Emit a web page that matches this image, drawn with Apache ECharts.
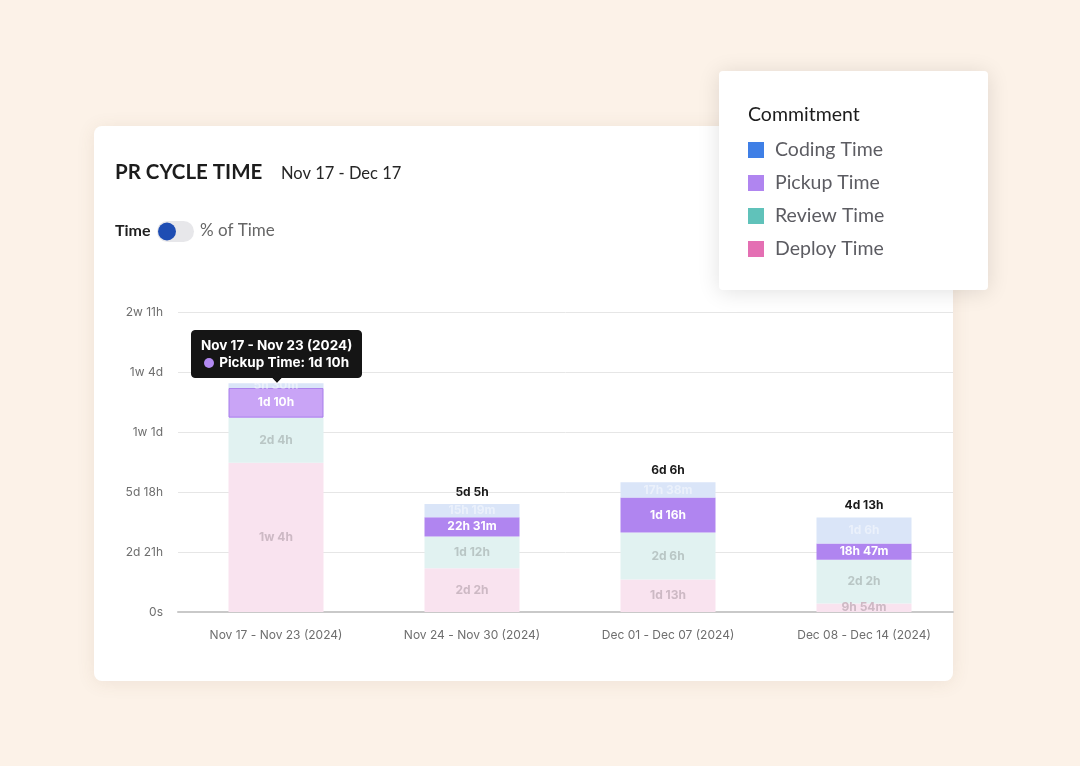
<!DOCTYPE html>
<html>
<head>
<meta charset="utf-8">
<script src="https://cdn.jsdelivr.net/npm/echarts@6/dist/echarts.min.js"></script>
<style>
  html, body { margin: 0; padding: 0; background: #FCF2E8; }
  #chart { width: 1080px; height: 766px; }
</style>
</head>
<body>
<div id="chart"></div>
<script>
// ---- data (hours) ----
const categories = ['Nov 17 - Nov 23 (2024)', 'Nov 24 - Nov 30 (2024)', 'Dec 01 - Dec 07 (2024)', 'Dec 08 - Dec 14 (2024)'];
const deployTime = [172.5, 50.7, 37.5, 9.9];
const reviewTime = [52.3, 36.5, 54.5, 50.4];
const pickupTime = [34.4, 22.52, 40.4, 18.79];
const codingTime = [5.5, 15.32, 17.64, 30.2];
const seriesNames = ['Coding Time', 'Pickup Time', 'Review Time', 'Deploy Time'];
const yMax = 347;        // 2w 11h
const yInterval = 69.4;  // 2d 21h

const totals = categories.map((c, i) => deployTime[i] + reviewTime[i] + pickupTime[i] + codingTime[i]);

function fmt(hours) {
  let s = Math.round(hours * 3600);
  if (s <= 0) return '0s';
  const units = [['w', 604800], ['d', 86400], ['h', 3600], ['m', 60], ['s', 1]];
  const parts = [];
  for (const [u, n] of units) {
    const q = Math.floor(s / n);
    s -= q * n;
    if (q > 0) parts.push(q + u);
  }
  return parts.slice(0, 2).join(' ');
}

const FULL = { coding: '#3F7FE6', pickup: '#B085F0', review: '#60C2BA', deploy: '#E46FB3' };
const labelBase = { show: true, position: 'inside', fontSize: 12, fontWeight: 'bold', fontFamily: 'Inter, sans-serif',
                    textBorderWidth: 0, formatter: p => fmt(p.value) };

const chart = echarts.init(document.getElementById('chart'), null, { renderer: 'canvas' });

const option = {
  animation: false,
  backgroundColor: '#FCF2E8',
  title: [
    { text: 'PR CYCLE TIME', left: 115, top: 162, padding: 0, textStyle: { fontFamily: 'Lato', fontSize: 20.5, fontWeight: 'bold', color: '#1c1c1c' } },
    { text: 'Nov 17 - Dec 17', left: 281, top: 165, padding: 0, textStyle: { fontFamily: 'Lato', fontSize: 16.5, fontWeight: 'normal', color: '#262626' } },
    { text: 'Commitment', left: 748, top: 105, padding: 0, textStyle: { fontFamily: 'Lato', fontSize: 19.5, fontWeight: 'normal', color: '#1c1c1c' } }
  ],
  graphic: [
    { type: 'rect', z: -10, shape: { x: 94, y: 126, width: 859, height: 555, r: 8 },
      style: { fill: '#ffffff', shadowBlur: 18, shadowColor: 'rgba(120,90,60,0.10)', shadowOffsetY: 2 } },
    { type: 'rect', z: 1, shape: { x: 719, y: 71, width: 269, height: 219, r: 4 },
      style: { fill: '#ffffff', shadowBlur: 22, shadowColor: 'rgba(0,0,0,0.12)', shadowOffsetY: 2 } },
    { type: 'text', z: 5, style: { x: 115, y: 231, text: 'Time', fill: '#1f1f1f', font: 'bold 16px Lato', textVerticalAlign: 'middle' } },
    { type: 'rect', z: 5, shape: { x: 157, y: 221, width: 37, height: 21, r: 10.5 }, style: { fill: '#E7E7EA' } },
    { type: 'circle', z: 6, shape: { cx: 167, cy: 231.5, r: 9 }, style: { fill: '#1E4DB3' } },
    { type: 'text', z: 5, style: { x: 200, y: 231, text: '% of Time', fill: '#666666', font: '17px Lato', textVerticalAlign: 'middle' } }
  ],
  legend: {
    orient: 'vertical', left: 748, top: 140, z: 10, padding: 0,
    icon: 'rect', itemWidth: 16, itemHeight: 16, itemGap: 13, selectedMode: false,
    textStyle: { fontFamily: 'Lato', fontSize: 19.5, color: '#5c5c62', padding: [0, 0, 0, 6] },
    data: [
      { name: 'Coding Time', itemStyle: { color: FULL.coding } },
      { name: 'Pickup Time', itemStyle: { color: FULL.pickup } },
      { name: 'Review Time', itemStyle: { color: FULL.review } },
      { name: 'Deploy Time', itemStyle: { color: FULL.deploy } }
    ]
  },
  tooltip: {
    trigger: 'item', position: 'top', alwaysShowContent: true, transitionDuration: 0, showDelay: 0,
    backgroundColor: '#151515', borderColor: '#151515', borderWidth: 1, padding: [6, 9],
    textStyle: { color: '#ffffff', fontSize: 13.5, fontWeight: 'bold', fontFamily: 'Inter, sans-serif' },
    extraCssText: 'box-shadow:none;border-radius:4px;text-align:center;line-height:17px;',
    formatter: p => '<div style="font-weight:700">' + p.name + '</div>' +
      '<div style="font-weight:700"><span style="display:inline-block;width:10px;height:10px;border-radius:5px;background:#B38AF2;margin-right:5px;vertical-align:-1px"></span>' +
      p.seriesName + ': ' + fmt(p.value) + '</div>'
  },
  grid: [
    { left: 178, top: 312, width: 784, height: 300, containLabel: false },   // bars
    { left: 178, top: 312, width: 775, height: 300, containLabel: false }    // gridlines / baseline, clipped at card edge
  ],
  xAxis: [
    { type: 'category', data: categories, gridIndex: 0,
      axisLine: { show: false }, axisTick: { show: false },
      axisLabel: { margin: 17, fontSize: 12, color: '#6e6e6e', fontFamily: 'Inter, sans-serif' } },
    { type: 'value', gridIndex: 1, min: 0, max: 1,
      splitLine: { show: false }, axisTick: { show: false }, axisLabel: { show: false },
      axisLine: { show: true, onZero: false, lineStyle: { color: '#C9C9C9', width: 2 } } }
  ],
  yAxis: [
    { type: 'value', gridIndex: 0, min: 0, max: yMax, interval: yInterval, show: false },
    { type: 'value', gridIndex: 1, min: 0, max: yMax, interval: yInterval,
      axisLine: { show: false }, axisTick: { show: false },
      splitLine: { lineStyle: { color: '#E6E6E6', width: 1 } },
      axisLabel: { margin: 15, fontSize: 12, color: '#6e6e6e', fontFamily: 'Inter, sans-serif', formatter: v => fmt(v) } }
  ],
  series: [
    { name: 'Deploy Time', type: 'bar', stack: 'a', barWidth: 95, data: deployTime, emphasis: { disabled: true },
      itemStyle: { color: '#F9E3EF' }, label: Object.assign({}, labelBase, { color: '#CDB9C4' }) },
    { name: 'Review Time', type: 'bar', stack: 'a', data: reviewTime, emphasis: { disabled: true },
      itemStyle: { color: '#E1F2F1' }, label: Object.assign({}, labelBase, { color: '#B9C6C5' }) },
    { name: 'Pickup Time', type: 'bar', stack: 'a', emphasis: { disabled: true },
      data: pickupTime.map((v, i) => i === 0 ? { value: v, itemStyle: { color: '#C9A4F6', borderColor: '#A67DEB', borderWidth: 1 } } : v),
      itemStyle: { color: FULL.pickup }, label: Object.assign({}, labelBase, { color: '#ffffff' }) },
    { name: 'Coding Time', type: 'bar', stack: 'a', data: codingTime, emphasis: { disabled: true },
      itemStyle: { color: '#DAE5F8' }, label: Object.assign({}, labelBase, { color: 'rgba(255,255,255,0.45)' }) },
    { name: 'Total', type: 'bar', stack: 'a', data: categories.map(() => 0), silent: true, tooltip: { show: false },
      emphasis: { disabled: true }, itemStyle: { color: 'transparent' },
      label: { show: true, position: 'top', distance: 6, fontSize: 12, fontWeight: 'bold', color: '#1a1a1a',
               fontFamily: 'Inter, sans-serif', formatter: p => fmt(totals[p.dataIndex]) } }
  ]
};

chart.setOption(option);
function showTip() { chart.dispatchAction({ type: 'showTip', seriesIndex: 2, dataIndex: 0 }); }
showTip();
setTimeout(showTip, 50);
</script>
</body>
</html>
